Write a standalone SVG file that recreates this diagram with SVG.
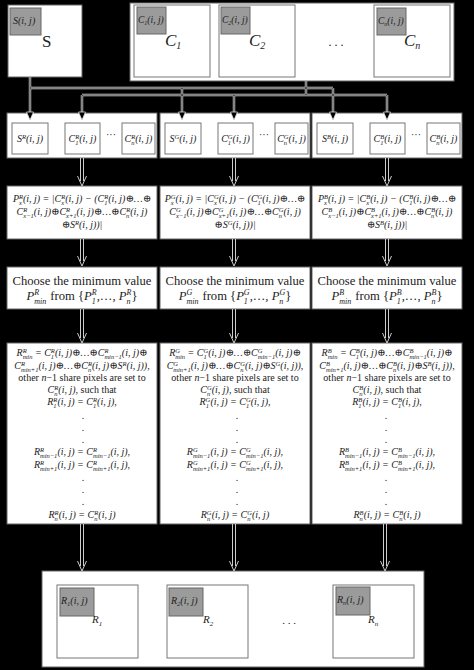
<svg xmlns="http://www.w3.org/2000/svg" width="474" height="670" viewBox="0 0 474 670">
<style>
.box{fill:#fff;stroke:#666;stroke-width:1}
.ibox{fill:#fff;stroke:#777;stroke-width:1}
.gray{fill:#9b9b9b;stroke:#666;stroke-width:1}
.t{font-family:"Liberation Serif","DejaVu Serif",serif;fill:#222}
.f{font-family:"Liberation Serif","DejaVu Serif",serif;fill:#222;font-size:10px;font-style:italic;text-anchor:middle}
.s{font-size:6.5px}
.s8{font-size:8px}
.u{font-style:normal}
.i{font-style:italic}
.c{font-family:"Liberation Serif","DejaVu Serif",serif;fill:#222;font-size:12.6px;text-anchor:middle}
.casing{fill:none;stroke:#ddd;stroke-width:2.4}
.core{fill:none;stroke:#000;stroke-width:0.8}
.head{fill:#000;stroke:#ddd;stroke-width:0.8}
.harrow{fill:none;stroke:#ccc;stroke-width:1}
</style>
<rect width="474" height="670" fill="#000"/>

<g id="S-image">
<rect class="box" x="8" y="5" width="74" height="72"/>
<rect class="gray" x="10" y="8" width="31" height="27"/>
<text class="t i" x="13" y="24" font-size="10">S(i, j)</text>
<text class="t" x="42" y="47" font-size="17">S</text>
</g>

<g id="C-images">
<rect class="box" x="130" y="3" width="324" height="78"/>
<rect class="ibox" x="134" y="5" width="76" height="72"/>
<rect class="gray" x="137" y="7" width="29" height="27"/>
<text class="t i" x="138" y="23" font-size="9.5">C<tspan font-size="6" dy="2">1</tspan><tspan dy="-2">(i, j)</tspan></text>
<text class="t i" x="165" y="46" font-size="17">C<tspan font-size="10" dy="3">1</tspan></text>
<rect class="ibox" x="219" y="5" width="76" height="72"/>
<rect class="gray" x="221" y="7" width="29" height="27"/>
<text class="t i" x="222" y="23" font-size="9.5">C<tspan font-size="6" dy="2">2</tspan><tspan dy="-2">(i, j)</tspan></text>
<text class="t i" x="249" y="46" font-size="17">C<tspan font-size="10" dy="3">2</tspan></text>
<text class="t" x="336" y="46" font-size="12" text-anchor="middle">. . .</text>
<rect class="ibox" x="374" y="5" width="76" height="72"/>
<rect class="gray" x="377" y="8" width="29" height="27"/>
<text class="t i" x="378" y="24" font-size="9.5">C<tspan font-size="6" dy="2">n</tspan><tspan dy="-2">(i, j)</tspan></text>
<text class="t i" x="404" y="46" font-size="17">C<tspan font-size="10" dy="3">n</tspan></text>
</g>

<g id="split-R">
<rect class="box" x="7" y="113" width="150" height="45"/>
<rect class="ibox" x="12" y="123" width="36" height="31"/>
<text class="f" x="30" y="142">S<tspan class="s" dy="-3.5">R</tspan><tspan dy="3.5">(i, j)</tspan></text>
<rect class="ibox" x="65" y="123" width="35" height="31"/>
<text class="f" x="82.5" y="142">C<tspan class="s" dy="-3.5">R</tspan><tspan class="s" dx="-4" dy="6">1</tspan><tspan dx="0.8" dy="-2.5">(i, j)</tspan></text>
<text class="t" x="111" y="138" font-size="10" text-anchor="middle">···</text>
<rect class="ibox" x="122" y="123" width="33" height="31"/>
<text class="f" x="138.5" y="142">C<tspan class="s" dy="-3.5">R</tspan><tspan class="s" dx="-4" dy="6">n</tspan><tspan dx="0.8" dy="-2.5">(i, j)</tspan></text>
</g>
<g id="split-G">
<rect class="box" x="160" y="113" width="150" height="45"/>
<rect class="ibox" x="165" y="123" width="36" height="31"/>
<text class="f" x="183" y="142">S<tspan class="s" dy="-3.5">G</tspan><tspan dy="3.5">(i, j)</tspan></text>
<rect class="ibox" x="218" y="123" width="35" height="31"/>
<text class="f" x="235.5" y="142">C<tspan class="s" dy="-3.5">G</tspan><tspan class="s" dx="-4.7" dy="6">1</tspan><tspan dx="1.5" dy="-2.5">(i, j)</tspan></text>
<text class="t" x="264" y="138" font-size="10" text-anchor="middle">···</text>
<rect class="ibox" x="275" y="123" width="33" height="31"/>
<text class="f" x="291.5" y="142">C<tspan class="s" dy="-3.5">G</tspan><tspan class="s" dx="-4.7" dy="6">n</tspan><tspan dx="1.5" dy="-2.5">(i, j)</tspan></text>
</g>
<g id="split-B">
<rect class="box" x="312" y="113" width="150" height="45"/>
<rect class="ibox" x="317" y="123" width="36" height="31"/>
<text class="f" x="335" y="142">S<tspan class="s" dy="-3.5">B</tspan><tspan dy="3.5">(i, j)</tspan></text>
<rect class="ibox" x="370" y="123" width="35" height="31"/>
<text class="f" x="387.5" y="142">C<tspan class="s" dy="-3.5">B</tspan><tspan class="s" dx="-4" dy="6">1</tspan><tspan dx="0.8" dy="-2.5">(i, j)</tspan></text>
<text class="t" x="416" y="138" font-size="10" text-anchor="middle">···</text>
<rect class="ibox" x="427" y="123" width="33" height="31"/>
<text class="f" x="443.5" y="142">C<tspan class="s" dy="-3.5">B</tspan><tspan class="s" dx="-4" dy="6">n</tspan><tspan dx="0.8" dy="-2.5">(i, j)</tspan></text>
</g>

<g id="P-R">
<rect class="box" x="7" y="186" width="150" height="53"/>
<text class="f" x="82" y="202">P<tspan class="s" dy="-3.5">R</tspan><tspan class="s" dx="-4" dy="6">x</tspan><tspan dx="1" dy="-2.5">(i, j) = |C</tspan><tspan class="s" dy="-3.5">R</tspan><tspan class="s" dx="-4" dy="6">x</tspan><tspan dx="1" dy="-2.5">(i, j) − (C</tspan><tspan class="s" dy="-3.5">R</tspan><tspan class="s" dx="-4" dy="6">1</tspan><tspan dx="0.8" dy="-2.5">(i, j)⊕…⊕</tspan></text>
<text class="f" x="82" y="215">C<tspan class="s" dy="-3.5">R</tspan><tspan class="s" dx="-4" dy="6">x−1</tspan><tspan dy="-2.5">(i, j)⊕C</tspan><tspan class="s" dy="-3.5">R</tspan><tspan class="s" dx="-4" dy="6">x+1</tspan><tspan dy="-2.5">(i, j)⊕…⊕C</tspan><tspan class="s" dy="-3.5">R</tspan><tspan class="s" dx="-4" dy="6">n</tspan><tspan dx="0.8" dy="-2.5">(i, j)</tspan></text>
<text class="f" x="82" y="228">⊕S<tspan class="s" dy="-3.5">R</tspan><tspan dy="3.5">(i, j))|</tspan></text>
</g>
<g id="P-G">
<rect class="box" x="160" y="186" width="150" height="53"/>
<text class="f" x="235" y="202">P<tspan class="s" dy="-3.5">G</tspan><tspan class="s" dx="-4.7" dy="6">x</tspan><tspan dx="1.8" dy="-2.5">(i, j) = |C</tspan><tspan class="s" dy="-3.5">G</tspan><tspan class="s" dx="-4.7" dy="6">x</tspan><tspan dx="1.8" dy="-2.5">(i, j) − (C</tspan><tspan class="s" dy="-3.5">G</tspan><tspan class="s" dx="-4.7" dy="6">1</tspan><tspan dx="1.5" dy="-2.5">(i, j)⊕…⊕</tspan></text>
<text class="f" x="235" y="215">C<tspan class="s" dy="-3.5">G</tspan><tspan class="s" dx="-4.7" dy="6">x−1</tspan><tspan dy="-2.5">(i, j)⊕C</tspan><tspan class="s" dy="-3.5">G</tspan><tspan class="s" dx="-4.7" dy="6">x+1</tspan><tspan dy="-2.5">(i, j)⊕…⊕C</tspan><tspan class="s" dy="-3.5">G</tspan><tspan class="s" dx="-4.7" dy="6">n</tspan><tspan dx="1.5" dy="-2.5">(i, j)</tspan></text>
<text class="f" x="235" y="228">⊕S<tspan class="s" dy="-3.5">G</tspan><tspan dy="3.5">(i, j))|</tspan></text>
</g>
<g id="P-B">
<rect class="box" x="312" y="186" width="150" height="53"/>
<text class="f" x="387" y="202">P<tspan class="s" dy="-3.5">B</tspan><tspan class="s" dx="-4" dy="6">x</tspan><tspan dx="1" dy="-2.5">(i, j) = |C</tspan><tspan class="s" dy="-3.5">B</tspan><tspan class="s" dx="-4" dy="6">x</tspan><tspan dx="1" dy="-2.5">(i, j) − (C</tspan><tspan class="s" dy="-3.5">B</tspan><tspan class="s" dx="-4" dy="6">1</tspan><tspan dx="0.8" dy="-2.5">(i, j)⊕…⊕</tspan></text>
<text class="f" x="387" y="215">C<tspan class="s" dy="-3.5">B</tspan><tspan class="s" dx="-4" dy="6">x−1</tspan><tspan dy="-2.5">(i, j)⊕C</tspan><tspan class="s" dy="-3.5">B</tspan><tspan class="s" dx="-4" dy="6">x+1</tspan><tspan dy="-2.5">(i, j)⊕…⊕C</tspan><tspan class="s" dy="-3.5">B</tspan><tspan class="s" dx="-4" dy="6">n</tspan><tspan dx="0.8" dy="-2.5">(i, j)</tspan></text>
<text class="f" x="387" y="228">⊕S<tspan class="s" dy="-3.5">B</tspan><tspan dy="3.5">(i, j))|</tspan></text>
</g>

<g id="min-R">
<rect class="box" x="7" y="267" width="150" height="42"/>
<text class="c" x="82" y="285">Choose the minimum value</text>
<text class="c" x="82" y="300"><tspan class="i">P</tspan><tspan class="i s8" dy="-5">R</tspan><tspan class="i s8" dx="-4.9" dy="8.5">min</tspan><tspan dy="-3.5" dx="4">from {</tspan><tspan class="i">P</tspan><tspan class="i s8" dy="-5">R</tspan><tspan class="i s8" dx="-4.9" dy="8.5">1</tspan><tspan dx="1" dy="-3.5">,…, </tspan><tspan class="i">P</tspan><tspan class="i s8" dy="-5">R</tspan><tspan class="i s8" dx="-4.9" dy="8.5">n</tspan><tspan dx="1" dy="-3.5">}</tspan></text>
</g>
<g id="min-G">
<rect class="box" x="160" y="267" width="150" height="42"/>
<text class="c" x="235" y="285">Choose the minimum value</text>
<text class="c" x="235" y="300"><tspan class="i">P</tspan><tspan class="i s8" dy="-5">G</tspan><tspan class="i s8" dx="-5.8" dy="8.5">min</tspan><tspan dy="-3.5" dx="4">from {</tspan><tspan class="i">P</tspan><tspan class="i s8" dy="-5">G</tspan><tspan class="i s8" dx="-5.8" dy="8.5">1</tspan><tspan dx="1.8" dy="-3.5">,…, </tspan><tspan class="i">P</tspan><tspan class="i s8" dy="-5">G</tspan><tspan class="i s8" dx="-5.8" dy="8.5">n</tspan><tspan dx="1.8" dy="-3.5">}</tspan></text>
</g>
<g id="min-B">
<rect class="box" x="312" y="267" width="150" height="42"/>
<text class="c" x="387" y="285">Choose the minimum value</text>
<text class="c" x="387" y="300"><tspan class="i">P</tspan><tspan class="i s8" dy="-5">B</tspan><tspan class="i s8" dx="-4.9" dy="8.5">min</tspan><tspan dy="-3.5" dx="4">from {</tspan><tspan class="i">P</tspan><tspan class="i s8" dy="-5">B</tspan><tspan class="i s8" dx="-4.9" dy="8.5">1</tspan><tspan dx="1" dy="-3.5">,…, </tspan><tspan class="i">P</tspan><tspan class="i s8" dy="-5">B</tspan><tspan class="i s8" dx="-4.9" dy="8.5">n</tspan><tspan dx="1" dy="-3.5">}</tspan></text>
</g>

<g id="share-R">
<rect class="box" x="7" y="343" width="150" height="181"/>
<text class="f" x="82" y="356">R<tspan class="s" dy="-3.5">R</tspan><tspan class="s" dx="-4" dy="6">min</tspan><tspan dy="-2.5"> = C</tspan><tspan class="s" dy="-3.5">R</tspan><tspan class="s" dx="-4" dy="6">1</tspan><tspan dx="0.8" dy="-2.5">(i, j)⊕…⊕C</tspan><tspan class="s" dy="-3.5">R</tspan><tspan class="s" dx="-4" dy="6">min−1</tspan><tspan dy="-2.5">(i, j)⊕</tspan></text>
<text class="f" x="82" y="369">C<tspan class="s" dy="-3.5">R</tspan><tspan class="s" dx="-4" dy="6">min+1</tspan><tspan dy="-2.5">(i, j)⊕…⊕C</tspan><tspan class="s" dy="-3.5">R</tspan><tspan class="s" dx="-4" dy="6">n</tspan><tspan dx="0.8" dy="-2.5">(i, j)⊕S</tspan><tspan class="s" dy="-3.5">R</tspan><tspan dy="3.5">(i, j)),</tspan></text>
<text class="f u" x="82" y="381">other <tspan class="i">n</tspan>−1 share pixels are set to</text>
<text class="f" x="82" y="393">C<tspan class="s" dy="-3.5">R</tspan><tspan class="s" dx="-4" dy="6">n</tspan><tspan dx="0.8" dy="-2.5">(i, j)</tspan><tspan class="u">, such that</tspan></text>
<text class="f" x="82" y="405">R<tspan class="s" dy="-3.5">R</tspan><tspan class="s" dx="-4" dy="6">1</tspan><tspan dx="0.8" dy="-2.5">(i, j) = C</tspan><tspan class="s" dy="-3.5">R</tspan><tspan class="s" dx="-4" dy="6">1</tspan><tspan dx="0.8" dy="-2.5">(i, j),</tspan></text>
<text class="f u" x="83" y="419">.</text>
<text class="f u" x="83" y="431">.</text>
<text class="f u" x="83" y="443">.</text>
<text class="f" x="82" y="455">R<tspan class="s" dy="-3.5">R</tspan><tspan class="s" dx="-4" dy="6">min−1</tspan><tspan dy="-2.5">(i, j) = C</tspan><tspan class="s" dy="-3.5">R</tspan><tspan class="s" dx="-4" dy="6">min−1</tspan><tspan dy="-2.5">(i, j),</tspan></text>
<text class="f" x="82" y="468">R<tspan class="s" dy="-3.5">R</tspan><tspan class="s" dx="-4" dy="6">min+1</tspan><tspan dy="-2.5">(i, j) = C</tspan><tspan class="s" dy="-3.5">R</tspan><tspan class="s" dx="-4" dy="6">min+1</tspan><tspan dy="-2.5">(i, j),</tspan></text>
<text class="f u" x="83" y="481">.</text>
<text class="f u" x="83" y="493">.</text>
<text class="f u" x="83" y="505">.</text>
<text class="f" x="82" y="518">R<tspan class="s" dy="-3.5">R</tspan><tspan class="s" dx="-4" dy="6">n</tspan><tspan dx="0.8" dy="-2.5">(i, j) = C</tspan><tspan class="s" dy="-3.5">R</tspan><tspan class="s" dx="-4" dy="6">n</tspan><tspan dx="0.8" dy="-2.5">(i, j)</tspan></text>
</g>
<g id="share-G">
<rect class="box" x="160" y="343" width="150" height="181"/>
<text class="f" x="235" y="356">R<tspan class="s" dy="-3.5">G</tspan><tspan class="s" dx="-4.7" dy="6">min</tspan><tspan dy="-2.5"> = C</tspan><tspan class="s" dy="-3.5">G</tspan><tspan class="s" dx="-4.7" dy="6">1</tspan><tspan dx="1.5" dy="-2.5">(i, j)⊕…⊕C</tspan><tspan class="s" dy="-3.5">G</tspan><tspan class="s" dx="-4.7" dy="6">min−1</tspan><tspan dy="-2.5">(i, j)⊕</tspan></text>
<text class="f" x="235" y="369">C<tspan class="s" dy="-3.5">G</tspan><tspan class="s" dx="-4.7" dy="6">min+1</tspan><tspan dy="-2.5">(i, j)⊕…⊕C</tspan><tspan class="s" dy="-3.5">G</tspan><tspan class="s" dx="-4.7" dy="6">n</tspan><tspan dx="1.5" dy="-2.5">(i, j)⊕S</tspan><tspan class="s" dy="-3.5">G</tspan><tspan dy="3.5">(i, j)),</tspan></text>
<text class="f u" x="235" y="381">other <tspan class="i">n</tspan>−1 share pixels are set to</text>
<text class="f" x="235" y="393">C<tspan class="s" dy="-3.5">G</tspan><tspan class="s" dx="-4.7" dy="6">n</tspan><tspan dx="1.5" dy="-2.5">(i, j)</tspan><tspan class="u">, such that</tspan></text>
<text class="f" x="235" y="405">R<tspan class="s" dy="-3.5">G</tspan><tspan class="s" dx="-4.7" dy="6">1</tspan><tspan dx="1.5" dy="-2.5">(i, j) = C</tspan><tspan class="s" dy="-3.5">G</tspan><tspan class="s" dx="-4.7" dy="6">1</tspan><tspan dx="1.5" dy="-2.5">(i, j),</tspan></text>
<text class="f u" x="237" y="419">.</text>
<text class="f u" x="237" y="431">.</text>
<text class="f u" x="237" y="443">.</text>
<text class="f" x="235" y="455">R<tspan class="s" dy="-3.5">G</tspan><tspan class="s" dx="-4.7" dy="6">min−1</tspan><tspan dy="-2.5">(i, j) = C</tspan><tspan class="s" dy="-3.5">G</tspan><tspan class="s" dx="-4.7" dy="6">min−1</tspan><tspan dy="-2.5">(i, j),</tspan></text>
<text class="f" x="235" y="468">R<tspan class="s" dy="-3.5">G</tspan><tspan class="s" dx="-4.7" dy="6">min+1</tspan><tspan dy="-2.5">(i, j) = C</tspan><tspan class="s" dy="-3.5">G</tspan><tspan class="s" dx="-4.7" dy="6">min+1</tspan><tspan dy="-2.5">(i, j),</tspan></text>
<text class="f u" x="237" y="481">.</text>
<text class="f u" x="237" y="493">.</text>
<text class="f u" x="237" y="505">.</text>
<text class="f" x="235" y="518">R<tspan class="s" dy="-3.5">G</tspan><tspan class="s" dx="-4.7" dy="6">n</tspan><tspan dx="1.5" dy="-2.5">(i, j) = C</tspan><tspan class="s" dy="-3.5">G</tspan><tspan class="s" dx="-4.7" dy="6">n</tspan><tspan dx="1.5" dy="-2.5">(i, j)</tspan></text>
</g>
<g id="share-B">
<rect class="box" x="312" y="343" width="150" height="181"/>
<text class="f" x="387" y="356">R<tspan class="s" dy="-3.5">B</tspan><tspan class="s" dx="-4" dy="6">min</tspan><tspan dy="-2.5"> = C</tspan><tspan class="s" dy="-3.5">B</tspan><tspan class="s" dx="-4" dy="6">1</tspan><tspan dx="0.8" dy="-2.5">(i, j)⊕…⊕C</tspan><tspan class="s" dy="-3.5">B</tspan><tspan class="s" dx="-4" dy="6">min−1</tspan><tspan dy="-2.5">(i, j)⊕</tspan></text>
<text class="f" x="387" y="369">C<tspan class="s" dy="-3.5">B</tspan><tspan class="s" dx="-4" dy="6">min+1</tspan><tspan dy="-2.5">(i, j)⊕…⊕C</tspan><tspan class="s" dy="-3.5">B</tspan><tspan class="s" dx="-4" dy="6">n</tspan><tspan dx="0.8" dy="-2.5">(i, j)⊕S</tspan><tspan class="s" dy="-3.5">B</tspan><tspan dy="3.5">(i, j)),</tspan></text>
<text class="f u" x="387" y="381">other <tspan class="i">n</tspan>−1 share pixels are set to</text>
<text class="f" x="387" y="393">C<tspan class="s" dy="-3.5">B</tspan><tspan class="s" dx="-4" dy="6">n</tspan><tspan dx="0.8" dy="-2.5">(i, j)</tspan><tspan class="u">, such that</tspan></text>
<text class="f" x="387" y="405">R<tspan class="s" dy="-3.5">B</tspan><tspan class="s" dx="-4" dy="6">1</tspan><tspan dx="0.8" dy="-2.5">(i, j) = C</tspan><tspan class="s" dy="-3.5">B</tspan><tspan class="s" dx="-4" dy="6">1</tspan><tspan dx="0.8" dy="-2.5">(i, j),</tspan></text>
<text class="f u" x="386" y="419">.</text>
<text class="f u" x="386" y="431">.</text>
<text class="f u" x="386" y="443">.</text>
<text class="f" x="387" y="455">R<tspan class="s" dy="-3.5">B</tspan><tspan class="s" dx="-4" dy="6">min−1</tspan><tspan dy="-2.5">(i, j) = C</tspan><tspan class="s" dy="-3.5">B</tspan><tspan class="s" dx="-4" dy="6">min−1</tspan><tspan dy="-2.5">(i, j),</tspan></text>
<text class="f" x="387" y="468">R<tspan class="s" dy="-3.5">B</tspan><tspan class="s" dx="-4" dy="6">min+1</tspan><tspan dy="-2.5">(i, j) = C</tspan><tspan class="s" dy="-3.5">B</tspan><tspan class="s" dx="-4" dy="6">min+1</tspan><tspan dy="-2.5">(i, j),</tspan></text>
<text class="f u" x="386" y="481">.</text>
<text class="f u" x="386" y="493">.</text>
<text class="f u" x="386" y="505">.</text>
<text class="f" x="387" y="518">R<tspan class="s" dy="-3.5">B</tspan><tspan class="s" dx="-4" dy="6">n</tspan><tspan dx="0.8" dy="-2.5">(i, j) = C</tspan><tspan class="s" dy="-3.5">B</tspan><tspan class="s" dx="-4" dy="6">n</tspan><tspan dx="0.8" dy="-2.5">(i, j)</tspan></text>
</g>

<g id="R-images">
<rect class="box" x="42" y="571" width="382" height="96"/>
<rect class="ibox" x="57" y="585" width="81" height="73"/>
<rect class="gray" x="60" y="588" width="34" height="28"/>
<text class="t i" x="61" y="604" font-size="10">R<tspan font-size="6.5" dy="2">1</tspan><tspan dy="-2">(i, j)</tspan></text>
<text class="t i" x="92" y="623" font-size="11">R<tspan font-size="7" dy="3">1</tspan></text>
<rect class="ibox" x="167" y="585" width="81" height="73"/>
<rect class="gray" x="169" y="588" width="34" height="28"/>
<text class="t i" x="171" y="604" font-size="10">R<tspan font-size="6.5" dy="2">2</tspan><tspan dy="-2">(i, j)</tspan></text>
<text class="t i" x="203" y="623" font-size="11">R<tspan font-size="7" dy="3">2</tspan></text>
<text class="t" x="289" y="624" font-size="11" text-anchor="middle">. . .</text>
<rect class="ibox" x="333" y="585" width="81" height="73"/>
<rect class="gray" x="336" y="587" width="34" height="28"/>
<text class="t i" x="337" y="603" font-size="10">R<tspan font-size="6.5" dy="2">n</tspan><tspan dy="-2">(i, j)</tspan></text>
<text class="t i" x="368" y="623" font-size="11">R<tspan font-size="7" dy="3">n</tspan></text>
</g>

<g id="connectors">
<path class="casing" d="M30,77V114M30,88H333M182,88V114M333,88V114M306,81V95M82,95H387M82,95V114M234,95V114M387,95V114"/>
<path class="core" d="M30,77V114M30,88H333M182,88V114M333,88V114M306,81V95M82,95H387M82,95V114M234,95V114M387,95V114"/>
<polygon class="head" points="26.5,112 33.5,112 30,120"/>
<polygon class="head" points="78.5,112 85.5,112 82,120"/>
<polygon class="head" points="178.5,112 185.5,112 182,120"/>
<polygon class="head" points="230.5,112 237.5,112 234,120"/>
<polygon class="head" points="329.5,112 336.5,112 333,120"/>
<polygon class="head" points="383.5,112 390.5,112 387,120"/>
<path class="harrow" d="M80.5,158V181M83.5,158V181M77.5,176L82,186L86.5,176M232.5,158V181M235.5,158V181M229.5,176L234,186L238.5,176M385.5,158V181M388.5,158V181M382.5,176L387,186L391.5,176"/>
<path class="harrow" d="M80.5,239V261M83.5,239V261M77.5,256L82,266L86.5,256M232.5,239V261M235.5,239V261M229.5,256L234,266L238.5,256M385.5,239V261M388.5,239V261M382.5,256L387,266L391.5,256"/>
<path class="harrow" d="M80.5,309V338M83.5,309V338M77.5,333L82,343L86.5,333M232.5,309V338M235.5,309V338M229.5,333L234,343L238.5,333M385.5,309V338M388.5,309V338M382.5,333L387,343L391.5,333"/>
<path class="harrow" d="M80.5,524V566M83.5,524V566M77.5,561L82,571L86.5,561M232.5,524V566M235.5,524V566M229.5,561L234,571L238.5,561M383.5,524V566M386.5,524V566M380.5,561L385,571L389.5,561"/>
</g>
</svg>
